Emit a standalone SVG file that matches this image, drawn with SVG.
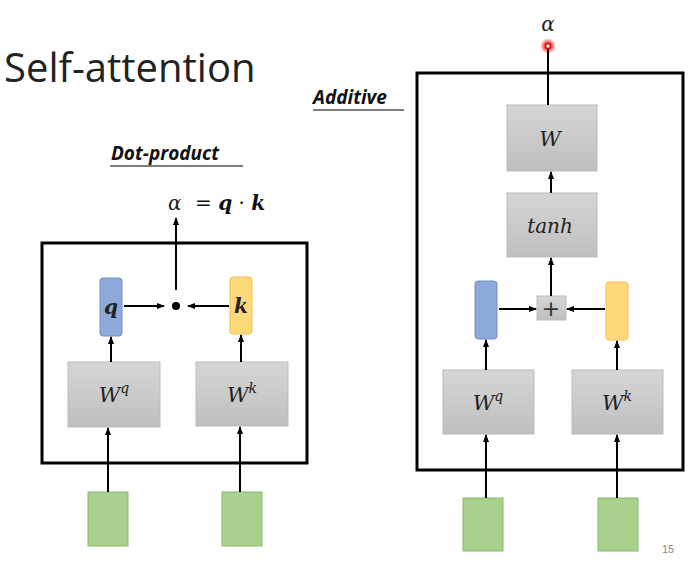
<svg xmlns="http://www.w3.org/2000/svg" width="697" height="561" viewBox="0 0 697 561">
<defs>
<linearGradient id="g" x1="0" y1="0" x2="0" y2="1"><stop offset="0" stop-color="#d6d6d6"/><stop offset="1" stop-color="#bfbfbf"/></linearGradient>
<marker id="a" markerWidth="8" markerHeight="8" refX="7" refY="4" orient="auto" markerUnits="userSpaceOnUse"><path d="M0,1 L8,4 L0,7 z" fill="#000"/></marker>
<radialGradient id="r"><stop offset="0.3" stop-color="#ff2020"/><stop offset="1" stop-color="#ff2020" stop-opacity="0"/></radialGradient>
</defs>
<style>
.gray{fill:url(#g);stroke:#bbb;stroke-width:1}
.blue{fill:#8eaadb;stroke:#6f8fc8;stroke-width:1}
.yel{fill:#ffd87a;stroke:#f0c050;stroke-width:1}
.grn{fill:#a9d18e;stroke:#8ab870;stroke-width:1}
.frame{fill:none;stroke:#000;stroke-width:3}
.m{font-family:"DejaVu Serif","Liberation Serif",serif;font-style:italic;fill:#222}
.t{font-family:"Open Sans","Liberation Sans",sans-serif;font-weight:bold;font-style:italic;fill:#111}
line{stroke:#000;stroke-width:2}
.ar{marker-end:url(#a)}
</style>
<text x="4" y="82" font-family="Open Sans, Liberation Sans, sans-serif" font-size="40" fill="#222">Self-attention</text>
<text x="111" y="160" class="t" font-size="19">Dot-product</text>
<line x1="110" y1="166" x2="243" y2="166" style="stroke-width:1.2"/>
<text x="313" y="104" class="t" font-size="19">Additive</text>
<line x1="313" y1="110" x2="404" y2="110" style="stroke-width:1.2"/>
<text x="662" y="553" font-family="Liberation Sans, sans-serif" font-size="11" fill="#888">15</text>

<g id="left-frame"><rect class="frame" x="42" y="243" width="265" height="220"/></g>
<g id="alpha-dot"><text x="168" y="210" class="m" font-size="20">α</text><text x="195" y="210" font-family="DejaVu Serif,serif" font-size="20" fill="#111">= <tspan font-weight="bold" font-style="italic">q</tspan> · <tspan font-weight="bold" font-style="italic">k</tspan></text></g>
<g id="q"><rect class="blue" x="100" y="278" width="22" height="58" rx="3"/><text x="111" y="314" text-anchor="middle" class="m" font-weight="bold" font-size="20" fill="#111">q</text></g>
<g id="k"><rect class="yel" x="230" y="277" width="22" height="57" rx="3"/><text x="241" y="313" text-anchor="middle" class="m" font-weight="bold" font-size="20" fill="#111">k</text></g>
<g id="dot"><circle cx="176" cy="306" r="4" fill="#000"/></g>
<g id="Wq1"><rect class="gray" x="68" y="362" width="92" height="65"/><text x="114" y="402" text-anchor="middle" class="m" font-size="21">W<tspan dy="-9" font-size="14">q</tspan></text></g>
<g id="Wk1"><rect class="gray" x="196" y="362" width="92" height="64"/><text x="242" y="402" text-anchor="middle" class="m" font-size="21">W<tspan dy="-9" font-size="14">k</tspan></text></g>
<g id="in1"><rect class="grn" x="88" y="492" width="40" height="54"/></g>
<g id="in2"><rect class="grn" x="222" y="492" width="40" height="54"/></g>

<g id="right-frame"><rect class="frame" x="417" y="73" width="266" height="397"/></g>
<g id="alpha2"><text x="548" y="31" text-anchor="middle" class="m" font-size="20">α</text><circle cx="548" cy="46" r="8" fill="url(#r)"/><circle cx="548" cy="46" r="2.5" fill="#fff" stroke="#e00" stroke-width="1.5"/></g>
<g id="W"><rect class="gray" x="507" y="105" width="90" height="66"/><text x="550" y="146" text-anchor="middle" class="m" font-size="21">W</text></g>
<g id="tanh"><rect class="gray" x="507" y="193" width="90" height="64"/><text x="550" y="233" text-anchor="middle" class="m" font-size="20">tanh</text></g>
<g id="plus"><rect class="gray" x="537" y="296" width="29" height="24"/><text x="551" y="316" text-anchor="middle" font-family="DejaVu Sans,sans-serif" font-size="22" fill="#333">+</text></g>
<g id="q2"><rect class="blue" x="475" y="281" width="22" height="58" rx="3"/></g>
<g id="k2"><rect class="yel" x="606" y="282" width="22" height="58" rx="3"/></g>
<g id="Wq2"><rect class="gray" x="443" y="370" width="91" height="64"/><text x="488" y="410" text-anchor="middle" class="m" font-size="21">W<tspan dy="-9" font-size="14">q</tspan></text></g>
<g id="Wk2"><rect class="gray" x="572" y="370" width="91" height="64"/><text x="617" y="410" text-anchor="middle" class="m" font-size="21">W<tspan dy="-9" font-size="14">k</tspan></text></g>
<g id="in3"><rect class="grn" x="463" y="498" width="40" height="53"/></g>
<g id="in4"><rect class="grn" x="598" y="498" width="40" height="53"/></g>

<g id="connectors">
<line class="ar" x1="108" y1="492" x2="108" y2="428"/>
<line class="ar" x1="240" y1="492" x2="240" y2="427"/>
<line class="ar" x1="111" y1="362" x2="111" y2="337"/>
<line class="ar" x1="241" y1="362" x2="241" y2="335"/>
<line class="ar" x1="124" y1="306" x2="164" y2="306"/>
<line class="ar" x1="229" y1="306" x2="188" y2="306"/>
<line class="ar" x1="176" y1="290" x2="176" y2="218"/>
<line class="ar" x1="486" y1="498" x2="486" y2="435"/>
<line class="ar" x1="617" y1="498" x2="617" y2="435"/>
<line class="ar" x1="486" y1="370" x2="486" y2="340"/>
<line class="ar" x1="617" y1="370" x2="617" y2="341"/>
<line class="ar" x1="499" y1="309" x2="536" y2="309"/>
<line class="ar" x1="605" y1="309" x2="567" y2="309"/>
<line class="ar" x1="551" y1="296" x2="551" y2="258"/>
<line class="ar" x1="551" y1="193" x2="551" y2="172"/>
<line x1="548" y1="105" x2="548" y2="49"/>
</g>
</svg>
